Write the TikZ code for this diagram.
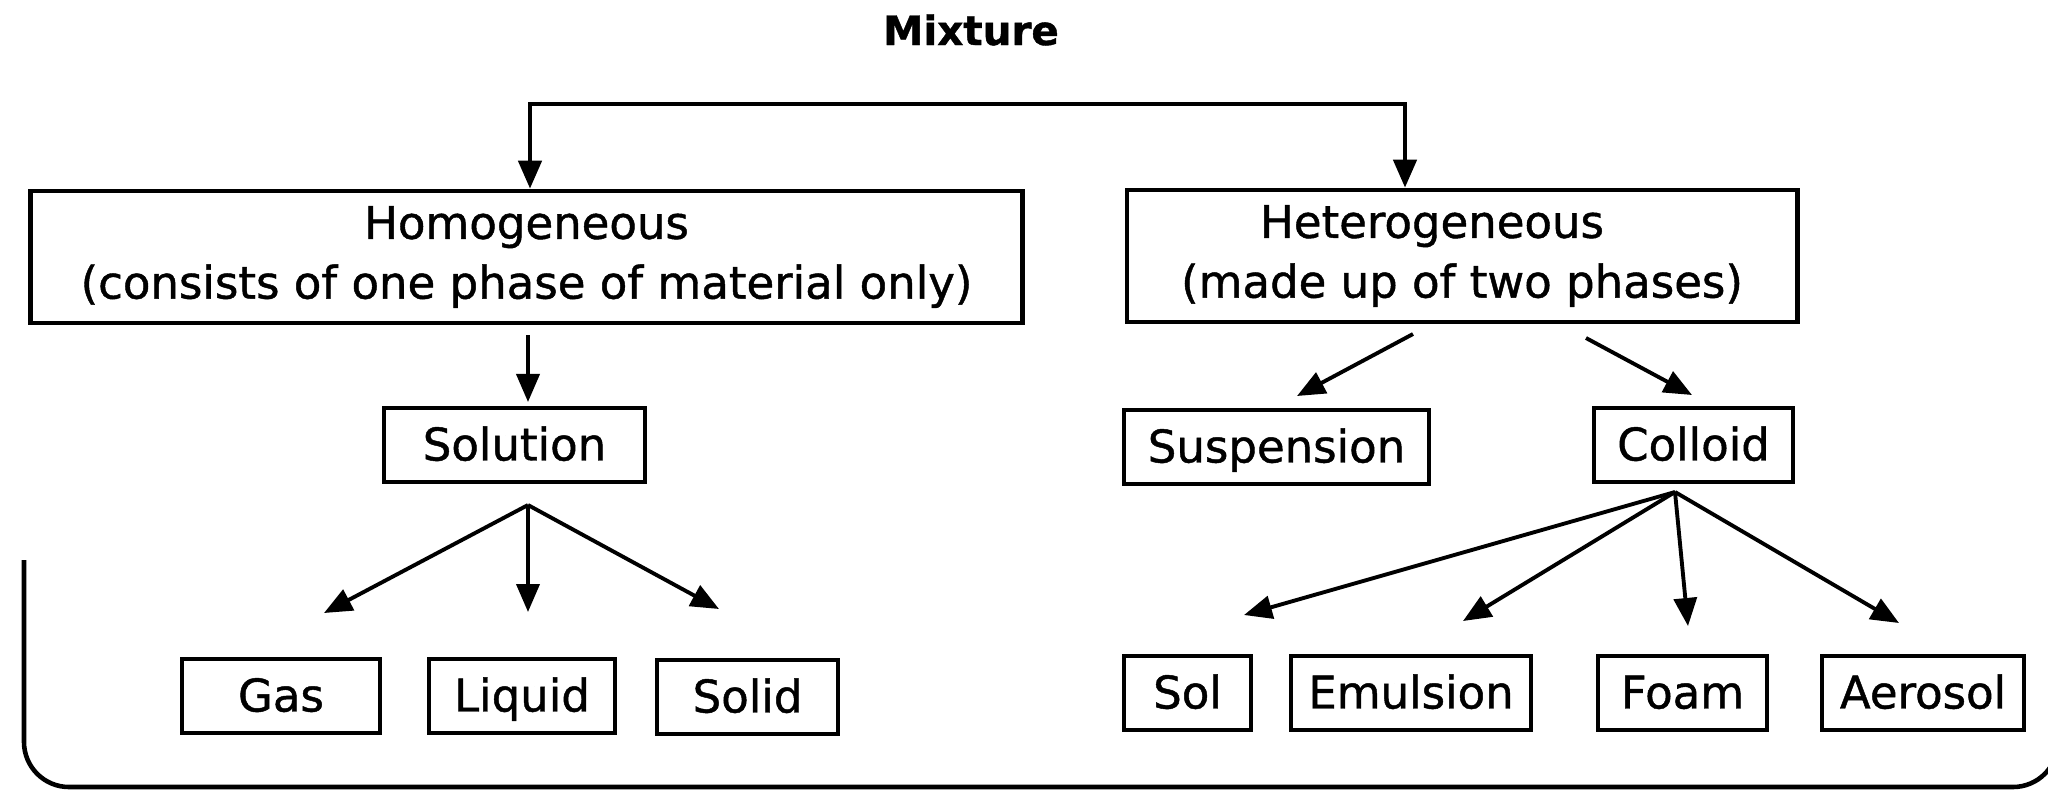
\documentclass[tikz,border=0pt]{standalone}
\usepackage{fontspec}
\setmainfont{DejaVu Sans}[FakeBold=1]
\usetikzlibrary{arrows.meta}

\begin{document}
\begin{tikzpicture}[x=0.01cm, y=-0.01cm,
    >={Triangle[length=2.8mm, width=2.3mm]},
    box/.style={draw, line width=1.3pt, inner sep=2pt, minimum height=0.74cm,
      font=\fontsize{12.8}{17}\selectfont, text height=12pt, text depth=3.2pt},
    grande/.style={draw, line width=1.3pt, align=center,
      font=\fontsize{12.8}{17}\selectfont},
    freccia/.style={->, line width=1.1pt}]
        \clip (0,0) rectangle (2048,790);
        % Cornice
        \draw[line width=1.3pt, rounded corners=0.45cm]
        (24,560) -- (24,787) -- (2058,787) -- (2058,600);
        % Titolo
        \node[font=\bfseries\fontsize{11.5}{14}\selectfont, anchor=base] (mix) at (971,45) {Mixture};
        % Primo livello
        \node[grande, minimum width=9.91cm, minimum height=1.32cm] (omo) at (526.5,257)
        {Homogeneous\\(consists of one phase of material only)};
        \node[grande, minimum width=6.70cm, minimum height=1.32cm] (ete) at (1462,256)
        {Heterogeneous\hspace*{0.6cm}\\(made up of two phases)};
        % Secondo livello
        \node[box, minimum width=2.61cm] (soluz) at (514.5,445) {Solution};
        \node[box, minimum width=3.05cm] (susp) at (1276.5,447) {Suspension};
        \node[box, minimum width=1.99cm] (coll) at (1693.5,445) {Colloid};
        % Terzo livello
        \node[box, minimum width=1.98cm] (gas) at (281,696) {Gas};
        \node[box, minimum width=1.86cm] (liq) at (522,696) {Liquid};
        \node[box, minimum width=1.81cm] (solido) at (747.5,697) {Solid};
        \node[box, minimum width=1.27cm] (sol) at (1187.5,693) {Sol};
        \node[box, minimum width=2.40cm] (emul) at (1411,693) {Emulsion};
        \node[box, minimum width=1.69cm] (schiuma) at (1682.5,693) {Foam};
        \node[box, minimum width=2.02cm] (aero) at (1923,693) {Aerosol};
        % Punti delle frecce
        \coordinate (sx) at (530,104);
        \coordinate (dx) at (1405,104);
        \coordinate (o1) at (528,335);
        \coordinate (o2) at (528,402);
        \coordinate (e1) at (1413,334);
        \coordinate (e2) at (1297,396);
        \coordinate (e3) at (1586,338);
        \coordinate (e4) at (1692,395);
        \coordinate (fs) at (528,505);
        \coordinate (pgas) at (324,613);
        \coordinate (pliq) at (528,612);
        \coordinate (psolido) at (719,609);
        \coordinate (fc) at (1675,492);
        \coordinate (psol) at (1244,615);
        \coordinate (pemul) at (1463,621);
        \coordinate (pschiuma) at (1688,626);
        \coordinate (paero) at (1899,623);
        % Frecce
        \draw[<->, line width=1.3pt] (sx |- omo.north) -- (sx) -- (dx) -- (dx |- ete.north);
        \draw[freccia] (o1) -- (o2);
        \draw[freccia] (e1) -- (e2);
        \draw[freccia] (e3) -- (e4);
        \draw[freccia] (fs) -- (pgas);
        \draw[freccia] (fs) -- (pliq);
        \draw[freccia] (fs) -- (psolido);
        \draw[freccia] (fc) -- (psol);
        \draw[freccia] (fc) -- (pemul);
        \draw[freccia] (fc) -- (pschiuma);
        \draw[freccia] (fc) -- (paero);
    \end{tikzpicture}
\end{document}
